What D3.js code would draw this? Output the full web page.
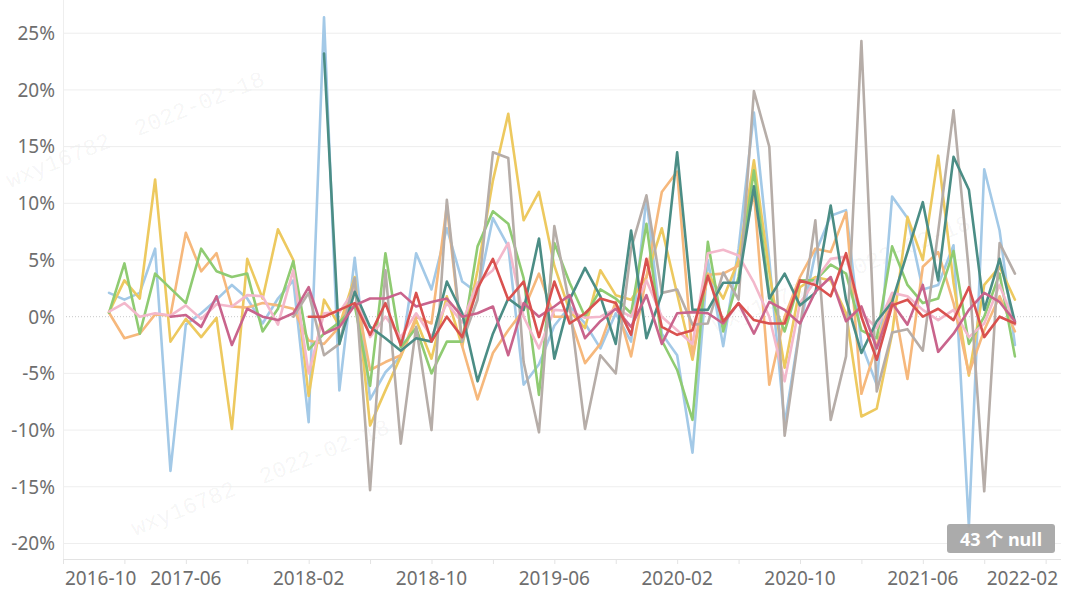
<!DOCTYPE html>
<html><head><meta charset="utf-8">
<script src="https://cdn.jsdelivr.net/npm/d3@7"></script>
<style>
html,body{margin:0;padding:0;background:#fff;}
svg{display:block;font-family:"Noto Sans","Open Sans",sans-serif;}
</style></head><body>
<svg id="chart" width="1080" height="598"></svg>
<script>
// ---- data ----
const months = [
 "2017-01","2017-02","2017-03","2017-04","2017-05","2017-06","2017-07","2017-08","2017-09","2017-10","2017-11","2017-12",
 "2018-01","2018-02","2018-03","2018-04","2018-05","2018-06","2018-07","2018-08","2018-09","2018-10","2018-11","2018-12",
 "2019-01","2019-02","2019-03","2019-04","2019-05","2019-06","2019-07","2019-08","2019-09","2019-10","2019-11","2019-12",
 "2020-01","2020-02","2020-03","2020-04","2020-05","2020-06","2020-07","2020-08","2020-09","2020-10","2020-11","2020-12",
 "2021-01","2021-02","2021-03","2021-04","2021-05","2021-06","2021-07","2021-08","2021-09","2021-10","2021-11","2021-12"];
const xTickLabels = ["2016-10","2017-06","2018-02","2018-10","2019-06","2020-02","2020-10","2021-06","2022-02"];
const yTicks = [-20,-15,-10,-5,0,5,10,15,20,25];
const N = null;
const blue = [2.1,1.5,2.1,6.0,-13.6,-0.7,0.3,1.5,2.8,1.6,-0.6,1.6,
 3.2,-9.3,26.4,-6.5,5.2,-7.3,-4.9,-3.5,5.6,2.4,7.8,3.1,
 2.1,8.7,6.2,-6.0,-4.2,-0.8,0.9,-0.6,-2.8,0.3,-2.2,10.5,
 -1.5,-3.4,-12.0,5.0,-2.6,6.0,18.0,5.0,-9.5,-0.9,5.6,8.9,
 9.4,-2.4,-6.0,10.6,8.7,2.4,2.8,6.3,-18.5,13.0,7.6,-2.5];
const yellow = [0.4,3.2,1.6,12.1,-2.2,-0.2,-1.8,-0.1,-9.9,5.1,1.6,7.7,
 5.0,-7.0,1.5,-0.8,3.5,-9.6,-6.5,-3.5,-0.3,-3.7,1.8,-2.6,
 4.1,12.0,17.9,8.5,11.0,4.5,0.5,-1.0,4.1,1.9,1.5,3.5,
 7.8,2.0,-3.8,3.8,1.6,5.0,13.8,4.0,-4.5,2.6,3.5,3.2,
 0.3,-8.8,-8.1,-1.5,8.8,5.0,14.2,3.0,-5.2,2.8,4.4,1.5];
const orange = [0.35,-1.9,-1.5,0.2,0.1,7.4,4.0,5.6,0.9,0.8,1.2,1.0,
 0.7,-2.1,-2.4,-0.9,2.6,-4.7,-4.0,-3.4,0.0,-0.6,9.8,-2.6,
 -7.3,-3.2,-1.2,0.6,3.8,0.0,0.0,-4.1,-2.4,1.3,-3.5,3.5,
 11.0,12.8,-3.5,3.7,3.8,4.5,11.0,-6.0,0.0,3.5,6.0,5.7,
 9.2,-6.8,-2.5,2.0,-5.5,4.4,5.7,1.2,-5.0,-1.2,1.8,-1.3];
const green = [0.35,4.7,-1.5,3.8,2.5,1.2,6.0,4.0,3.5,3.8,-1.3,0.7,
 4.9,-2.9,-1.5,-0.5,1.0,-6.1,5.6,-2.7,-1.0,-5.0,-2.2,-2.2,
 6.2,9.3,8.2,3.4,-6.9,6.5,3.0,0.0,2.4,1.6,0.3,8.2,
 -2.1,-4.7,-9.1,6.6,-1.3,3.5,12.9,2.0,-1.3,3.2,3.2,4.6,
 3.8,-1.2,-1.9,6.2,2.8,1.2,1.6,5.8,-2.4,0.0,3.8,-3.5];
const pink = [0.45,1.2,0.0,0.3,0.1,1.0,-0.2,1.1,0.9,1.9,1.8,-0.7,
 4.1,-5.0,0.3,0.4,2.4,-1.8,0.0,-1.8,0.3,-1.8,1.2,-0.5,
 3.0,4.1,6.5,0.0,-2.8,0.6,0.5,-0.1,0.0,0.7,0.0,3.2,
 0.0,-1.2,-2.4,5.6,5.9,5.4,3.0,0.0,-5.7,1.2,3.2,5.1,
 5.3,0.3,-1.0,2.1,1.8,0.6,-0.3,0.6,-1.8,-0.6,2.8,-0.7];
const gray = [N,N,N,N,N,N,N,N,N,N,N,N,
 0.0,2.1,-3.4,-2.4,3.4,-15.3,4.1,-11.2,-0.9,-10.0,10.3,-2.2,
 1.5,14.5,14.0,-4.0,-10.2,8.0,1.0,-9.9,-3.4,-5.0,6.0,10.7,
 2.1,2.4,-0.7,-0.6,3.9,1.5,19.9,15.0,-10.5,-1.0,8.5,-9.1,
 -3.5,24.3,-6.6,-1.4,-1.1,-3.0,7.5,18.2,4.0,-15.4,6.5,3.8];
const teal = [N,N,N,N,N,N,N,N,N,N,N,N,
 N,N,23.2,-2.4,2.2,-0.9,-1.9,-3.0,-1.9,-2.2,3.1,0.3,
 -5.7,-1.5,1.6,0.6,6.9,-3.7,1.5,4.3,1.8,-2.4,7.6,-1.9,
 2.0,14.5,0.6,0.6,3.0,3.0,11.5,1.6,3.8,1.0,2.1,9.8,
 1.5,-3.2,-0.4,1.3,5.7,10.1,3.2,14.1,11.2,0.6,5.1,-0.5];
const mauve = [N,N,N,N,0.0,0.15,-0.9,1.8,-2.5,0.7,0.0,-0.3,
 0.3,2.6,-1.5,-0.9,1.0,1.6,1.6,2.1,0.9,1.3,1.6,0.0,
 0.3,0.9,-3.4,1.2,0.0,0.9,1.9,-1.9,-0.4,0.7,-0.9,1.9,
 -2.4,0.3,0.4,0.3,-0.6,1.2,-1.5,1.3,0.6,-0.6,2.2,3.5,
 -0.4,0.9,-2.8,1.2,-0.7,2.8,-3.1,-1.5,0.6,2.1,1.3,-0.4];
const red = [N,N,N,N,N,N,N,N,N,N,N,N,
 N,0.0,0.0,0.6,1.2,-1.6,1.2,-2.5,2.1,-2.2,0.0,-1.8,
 2.5,5.1,1.5,3.1,-1.8,3.1,-0.6,0.3,1.6,1.2,-1.6,5.1,
 -0.9,-1.6,-1.2,3.6,-0.4,1.2,-0.3,-0.6,-0.6,3.2,2.8,1.8,
 5.6,0.0,-3.8,1.0,1.5,0.0,0.7,-0.3,2.6,-1.8,0.0,-0.6];

const series = [
 {values: blue,   color: "#a3c9e7"},
 {values: yellow, color: "#edc95f"},
 {values: orange, color: "#f6b87c"},
 {values: green,  color: "#8fcb72"},
 {values: pink,   color: "#f3b8cb"},
 {values: gray,   color: "#b6ada8"},
 {values: teal,   color: "#4b8d85"},
 {values: mauve,  color: "#c9648c"},
 {values: red,    color: "#d9514f"}
];

// ---- layout ----
const plotL = 63, plotR = 1061, plotT = 0, plotB = 559;
const svg = d3.select("#chart");
const fmt = d3.utcFormat("%Y-%m");
const axisMonths = d3.utcMonth.range(new Date(Date.UTC(2016,9,1)), new Date(Date.UTC(2022,3,1))).map(fmt);

const x = d3.scalePoint().domain(axisMonths).range([plotL, plotR]);
const y = d3.scaleLinear().domain([-21.37, 27.93]).range([plotB, plotT]);

// watermarks
const wm = svg.append("g").attr("font-family","'Liberation Mono','DejaVu Sans Mono',monospace")
  .attr("font-size", 23).attr("fill", "#000").attr("fill-opacity", 0.05);
[[10,188],[135,536],[716,332]].forEach(([tx,ty]) => {
  wm.append("text").attr("transform", `translate(${tx},${ty}) rotate(-22)`)
    .attr("xml:space","preserve").text("wxy16782  2022-02-18");
});

// grid
const grid = svg.append("g");
grid.selectAll("line.g").data(yTicks.filter(d => d !== 0)).join("line")
  .attr("x1", plotL).attr("x2", plotR)
  .attr("y1", d => y(d)).attr("y2", d => y(d))
  .attr("stroke", "#eeeeee").attr("stroke-width", 1);
grid.append("line").attr("x1", plotL).attr("x2", plotR).attr("y1", y(0)).attr("y2", y(0))
  .attr("stroke", "#c8c8c8").attr("stroke-width", 1).attr("stroke-dasharray", "1,2");
grid.append("line").attr("x1", plotL+0.5).attr("x2", plotL+0.5).attr("y1", plotT).attr("y2", plotB)
  .attr("stroke", "#eeeeee");

// y labels
svg.append("g").selectAll("text").data(yTicks).join("text")
  .attr("x", 55).attr("y", d => y(d)).attr("dy", "0.36em")
  .attr("text-anchor", "end").attr("font-size", 19).attr("fill", "#6e6e6e")
  .text(d => d + "%");

// x axis
const tickMonths = axisMonths.filter((d,i) => i % 4 === 0);
const xAxis = d3.axisBottom(x).tickValues(tickMonths).tickSize(5).tickFormat(() => "");
const gx = svg.append("g").attr("transform", `translate(0,${plotB})`).call(xAxis);
gx.select(".domain").attr("stroke", "#e3e3e3").attr("d", `M${plotL},0.5H${plotR}`);
gx.selectAll(".tick line").attr("stroke", "#e3e3e3");

const xl = svg.append("g").attr("font-size", 19).attr("fill", "#6e6e6e");
xTickLabels.forEach(lbl => {
  const t = xl.append("text").attr("y", 585).attr("text-anchor", "middle").attr("x", x(lbl)).text(lbl);
  const bb = t.node().getBBox();
  if (bb.x < plotL + 2) t.attr("x", x(lbl) + (plotL + 2 - bb.x));
  if (bb.x + bb.width > plotR - 3) t.attr("x", x(lbl) - (bb.x + bb.width - (plotR - 3)));
});

// lines
const line = d3.line()
  .defined(d => d.v !== null)
  .x(d => x(d.m)).y(d => y(d.v));
const lg = svg.append("g");
series.forEach(s => {
  const pts = months.map((m,i) => ({m, v: s.values[i]}));
  lg.append("path").datum(pts).attr("d", line)
    .attr("fill", "none").attr("stroke", s.color).attr("stroke-width", 2.6)
    .attr("stroke-linejoin", "round").attr("stroke-linecap", "round");
});

// null badge
const nullCount = series.reduce((a,s) => a + s.values.filter(v => v === null).length, 0);
const badge = svg.append("g");
badge.append("rect").attr("x", 947).attr("y", 524).attr("width", 108).attr("height", 29)
  .attr("rx", 3).attr("fill", "#a6a6a6").attr("fill-opacity", 0.95);
badge.append("text").attr("x", 1001).attr("y", 546).attr("text-anchor", "middle")
  .attr("font-size", 18).attr("font-weight", "bold").attr("fill", "#fff")
  .attr("font-family", "'Noto Sans','Noto Sans CJK SC',sans-serif")
  .text(nullCount + " 个 null");
</script>
</body></html>
